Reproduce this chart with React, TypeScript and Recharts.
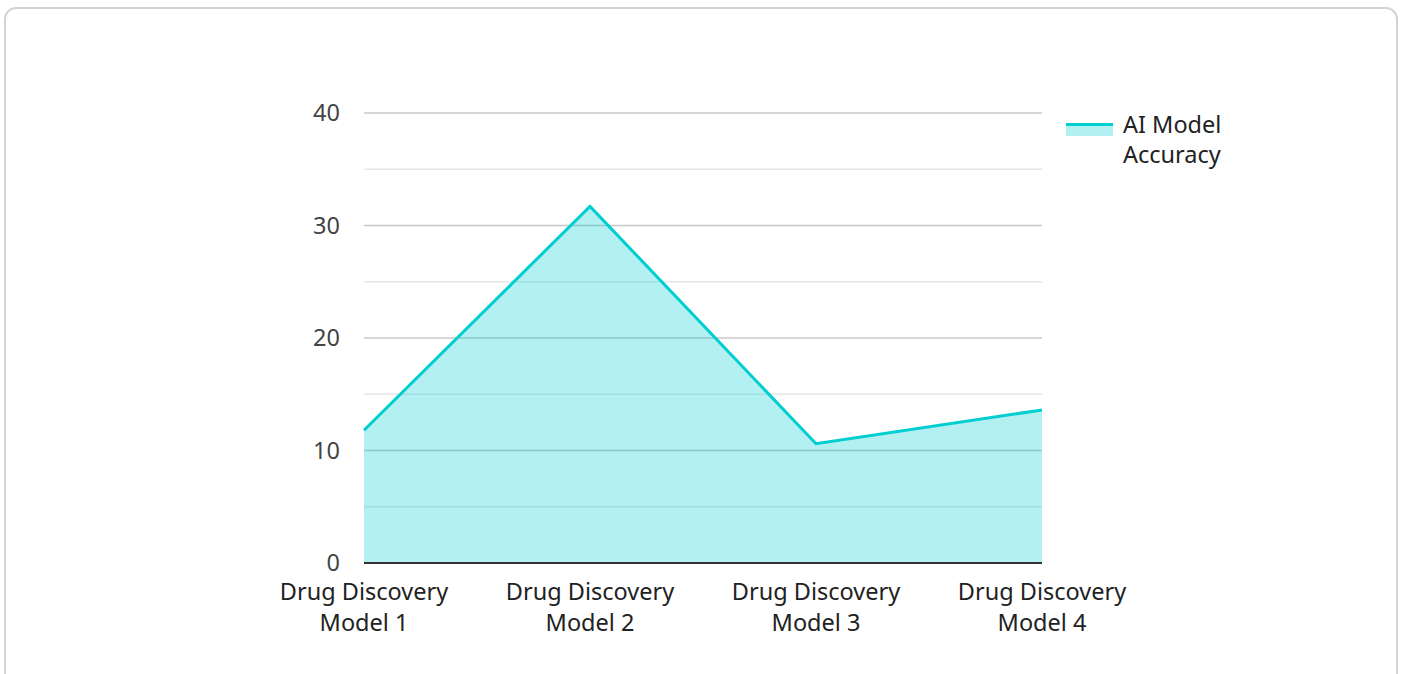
import { Area, AreaChart, CartesianGrid, XAxis, YAxis } from "recharts";

const models = [
  "Drug Discovery Model 1",
  "Drug Discovery Model 2",
  "Drug Discovery Model 3",
  "Drug Discovery Model 4",
];
const accuracy = [11.8, 31.7, 10.6, 13.6];
const yTicks = [0, 10, 20, 30, 40];
const minorLines = [5, 15, 25, 35];

const data = models.map((name, i) => ({ name, accuracy: accuracy[i] }));

const FONT = "'Noto Sans', sans-serif";
const TEAL = "#00ced1";

function ModelTick({ x, y, payload }: any) {
  const label: string = payload.value;
  const cut = label.lastIndexOf(" Model");
  const first = label.slice(0, cut);
  const second = label.slice(cut + 1);
  return (
    <text
      x={x}
      y={y}
      textAnchor="middle"
      fill="#222"
      fontSize={23.5}
      fontFamily={FONT}
    >
      <tspan x={x} dy={29}>
        {first}
      </tspan>
      <tspan x={x} dy={31}>
        {second}
      </tspan>
    </text>
  );
}

export default function App() {
  return (
    <div style={{ position: "fixed", left: 0, top: 0, width: 1402, height: 674 }}>
      <div
        style={{
          position: "absolute",
          left: 4,
          top: 7,
          width: 1394,
          height: 700,
          border: "2px solid #d4d4d4",
          borderRadius: 12,
          boxSizing: "border-box",
          background: "#fff",
        }}
      />
      <div style={{ position: "absolute", left: 0, top: 0 }}>
        <AreaChart
          width={1402}
          height={674}
          data={data}
          margin={{ top: 113, right: 360, bottom: 31, left: 280 }}
        >
          <CartesianGrid
            vertical={false}
            horizontalValues={minorLines}
            stroke="#e6e6e6"
            strokeWidth={1.5}
          />
          <CartesianGrid
            vertical={false}
            horizontalValues={yTicks}
            stroke="#c8c8c8"
            strokeWidth={1.5}
          />
          <XAxis
            dataKey="name"
            axisLine={{ stroke: "#333", strokeWidth: 2 }}
            tickLine={false}
            interval={0}
            height={80}
            tick={<ModelTick />}
          />
          <YAxis
            domain={[0, 40]}
            ticks={yTicks}
            width={84}
            axisLine={false}
            tickLine={false}
            tickMargin={18}
            tick={{ fill: "#444", fontSize: 23.5, fontFamily: FONT }}
          />
          <Area
            type="linear"
            dataKey="accuracy"
            stroke={TEAL}
            strokeWidth={3}
            fill={TEAL}
            fillOpacity={0.3}
            dot={false}
            activeDot={false}
            isAnimationActive={false}
          />
        </AreaChart>
      </div>
      <div
        style={{
          position: "absolute",
          left: 1066,
          top: 109,
          display: "flex",
          fontFamily: FONT,
          fontSize: 23.5,
          color: "#222",
        }}
      >
        <div style={{ width: 47, marginTop: 14, marginRight: 10 }}>
          <div style={{ height: 3, background: TEAL }} />
          <div style={{ height: 10, background: "rgba(0,206,209,0.3)" }} />
        </div>
        <div style={{ lineHeight: "30px" }}>
          AI Model
          <br />
          Accuracy
        </div>
      </div>
    </div>
  );
}
